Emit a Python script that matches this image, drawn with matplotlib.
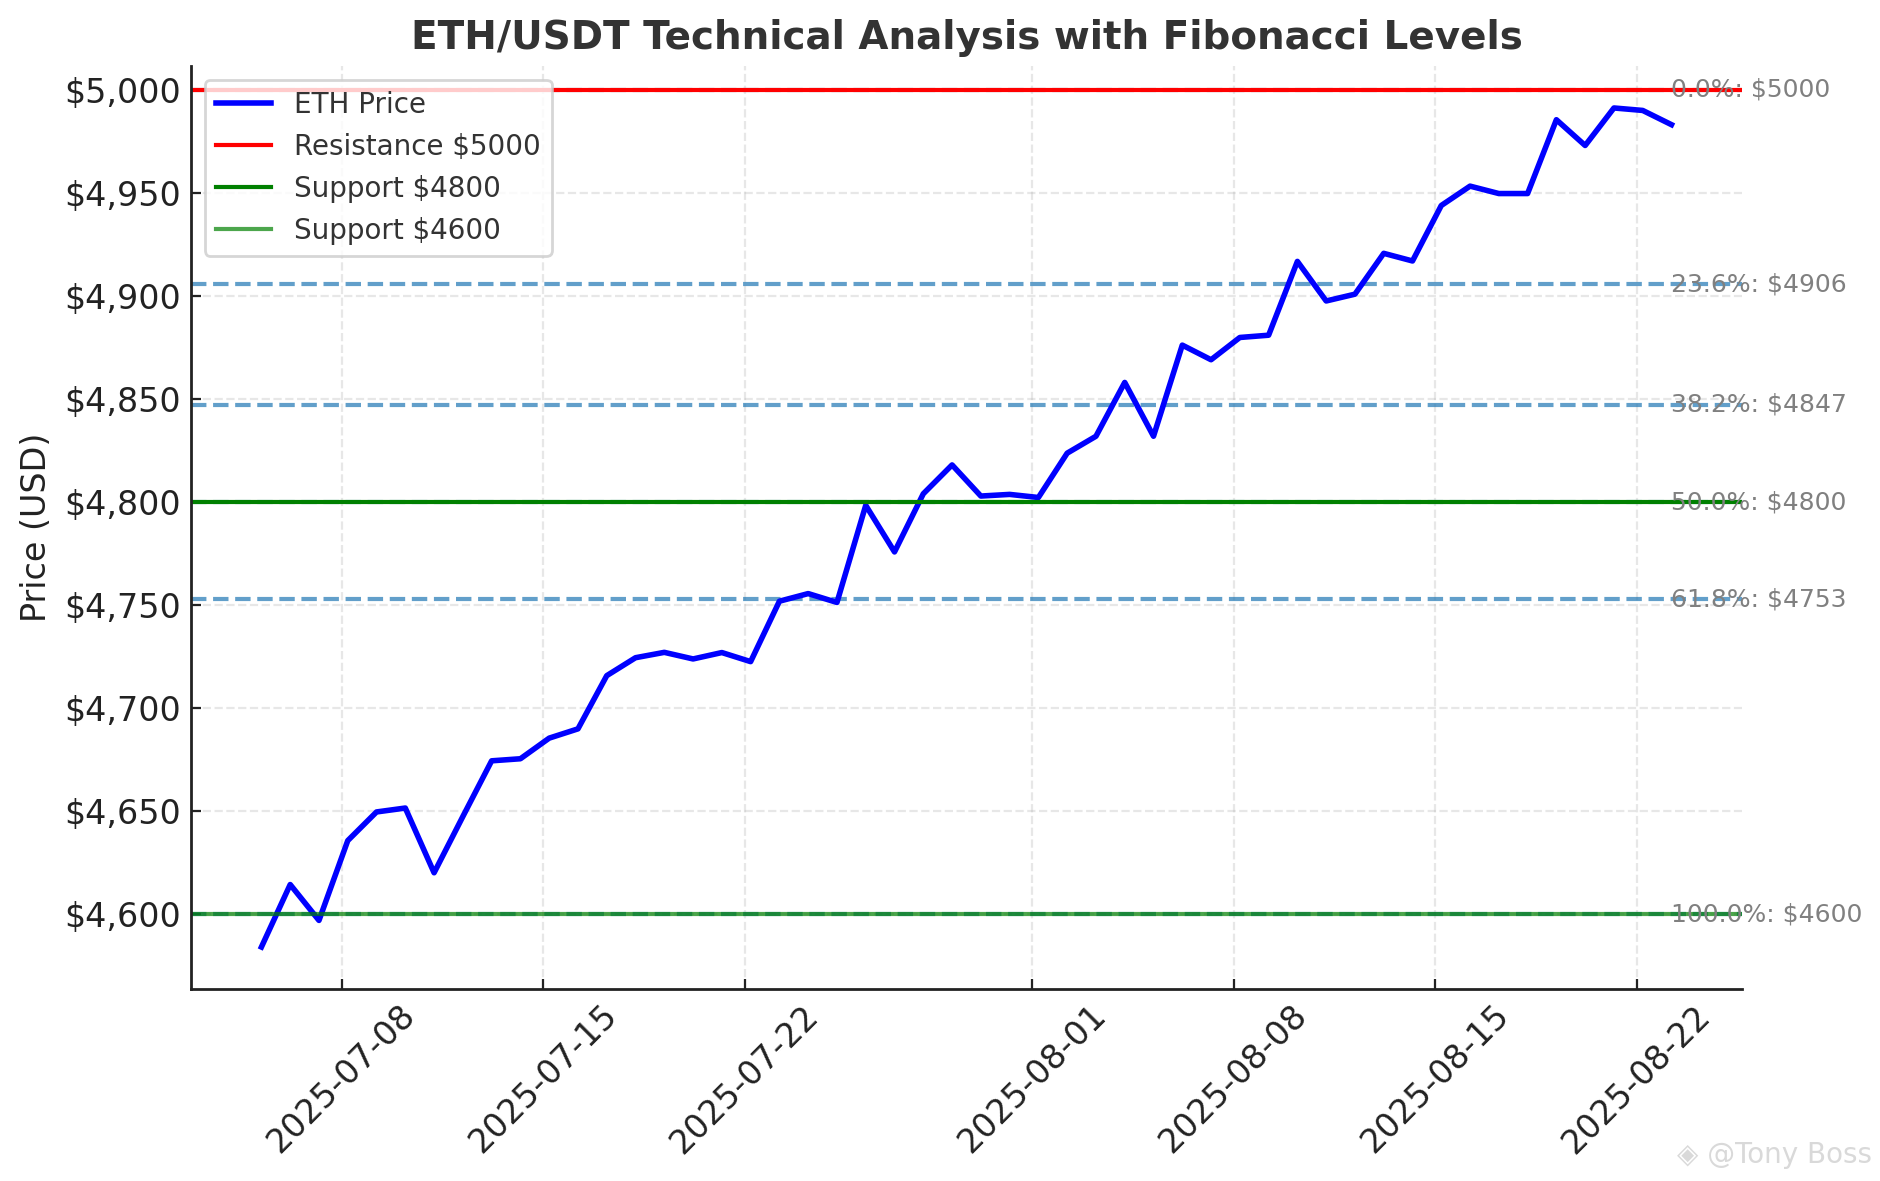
"""
ETH/USDT 技术分析图 (斐波那契回撤位)
"""

import matplotlib
matplotlib.use('Agg')

import matplotlib.pyplot as plt
import matplotlib.dates as mdates
import matplotlib.ticker as mticker
import numpy as np
import pandas as pd

plt.rcParams['font.family'] = ['DejaVu Sans']

# 数据
dates = pd.date_range('2025-07-05 05:00', periods=50, freq='D')
prices = [
    4584.2, 4614.5, 4597.1, 4635.8, 4649.7, 4651.6, 4620.2, 4647.5, 4674.5, 4675.5,
    4685.5, 4690.0, 4715.8, 4724.5, 4727.1, 4723.9, 4727.0, 4722.6, 4751.9, 4755.6,
    4751.3, 4798.4, 4775.8, 4804.0, 4818.0, 4802.9, 4803.7, 4802.2, 4823.7, 4831.9,
    4858.0, 4831.9, 4876.1, 4869.0, 4879.8, 4880.9, 4916.7, 4897.5, 4900.8, 4920.6,
    4916.9, 4943.8, 4953.2, 4949.6, 4949.6, 4985.4, 4972.9, 4991.1, 4989.9, 4983.0,
]
resistance = 5000
supports = [4800, 4600]
fib_high = 5000
fib_low = 4600
fib_ratios = [0.0, 0.236, 0.382, 0.5, 0.618, 1.0]

TEXT_DARK = '#222222'

fig, ax = plt.subplots(figsize=(9.405, 5.905), dpi=200)
fig.subplots_adjust(left=0.1015, right=0.9261, top=0.9441, bottom=0.1626)

# 斐波那契水平线
for r in fib_ratios:
    level = fib_high - (fib_high - fib_low) * r
    ax.axhline(level, color='#1f77b4', linestyle='--', linewidth=1.5, alpha=0.7)
    ax.text(dates[-1], level, f'{r * 100:.1f}%: ${level:.0f}',
            fontsize=9, color='gray', ha='left', va='center')

ax.plot(dates, prices, color='blue', linewidth=2, label='ETH Price')
ax.axhline(resistance, color='red', linewidth=1.5, label=f'Resistance ${resistance}')
ax.axhline(supports[0], color='green', linewidth=1.5, label=f'Support ${supports[0]}')
ax.axhline(supports[1], color='green', linewidth=1.5, alpha=0.7,
           label=f'Support ${supports[1]}')

# y 轴范围只按价格计算
lo, hi = min(prices), max(prices)
pad = (hi - lo) * 0.05
ax.set_ylim(lo - pad, hi + pad)

ax.set_title('ETH/USDT Technical Analysis with Fibonacci Levels',
             fontsize=14, fontweight='bold', color='#333333')
ax.set_ylabel('Price (USD)', fontsize=12, color=TEXT_DARK)

ax.yaxis.set_major_locator(mticker.MultipleLocator(50))
ax.yaxis.set_major_formatter(mticker.StrMethodFormatter('${x:,.0f}'))
ax.xaxis.set_major_locator(mdates.DayLocator(bymonthday=[1, 8, 15, 22]))
ax.xaxis.set_major_formatter(mdates.DateFormatter('%Y-%m-%d'))
plt.setp(ax.get_xticklabels(), rotation=45, ha='center')

ax.tick_params(direction='in', labelsize=12, colors=TEXT_DARK, width=0.8, length=3.5)
ax.grid(True, linestyle='--', alpha=0.3)
for side in ['top', 'right']:
    ax.spines[side].set_visible(False)
for side in ['left', 'bottom']:
    ax.spines[side].set_color(TEXT_DARK)
    ax.spines[side].set_linewidth(1.0)

legend = ax.legend(loc='upper left', fontsize=10)
for t in legend.get_texts():
    t.set_color('#333333')

# 水印
fig.text(0.995, 0.022, '◈ @Tony Boss', ha='right', va='center',
         fontsize=10, color='#d9d9d9')

fig.savefig('out.png', dpi=200, facecolor='white')
plt.close(fig)
